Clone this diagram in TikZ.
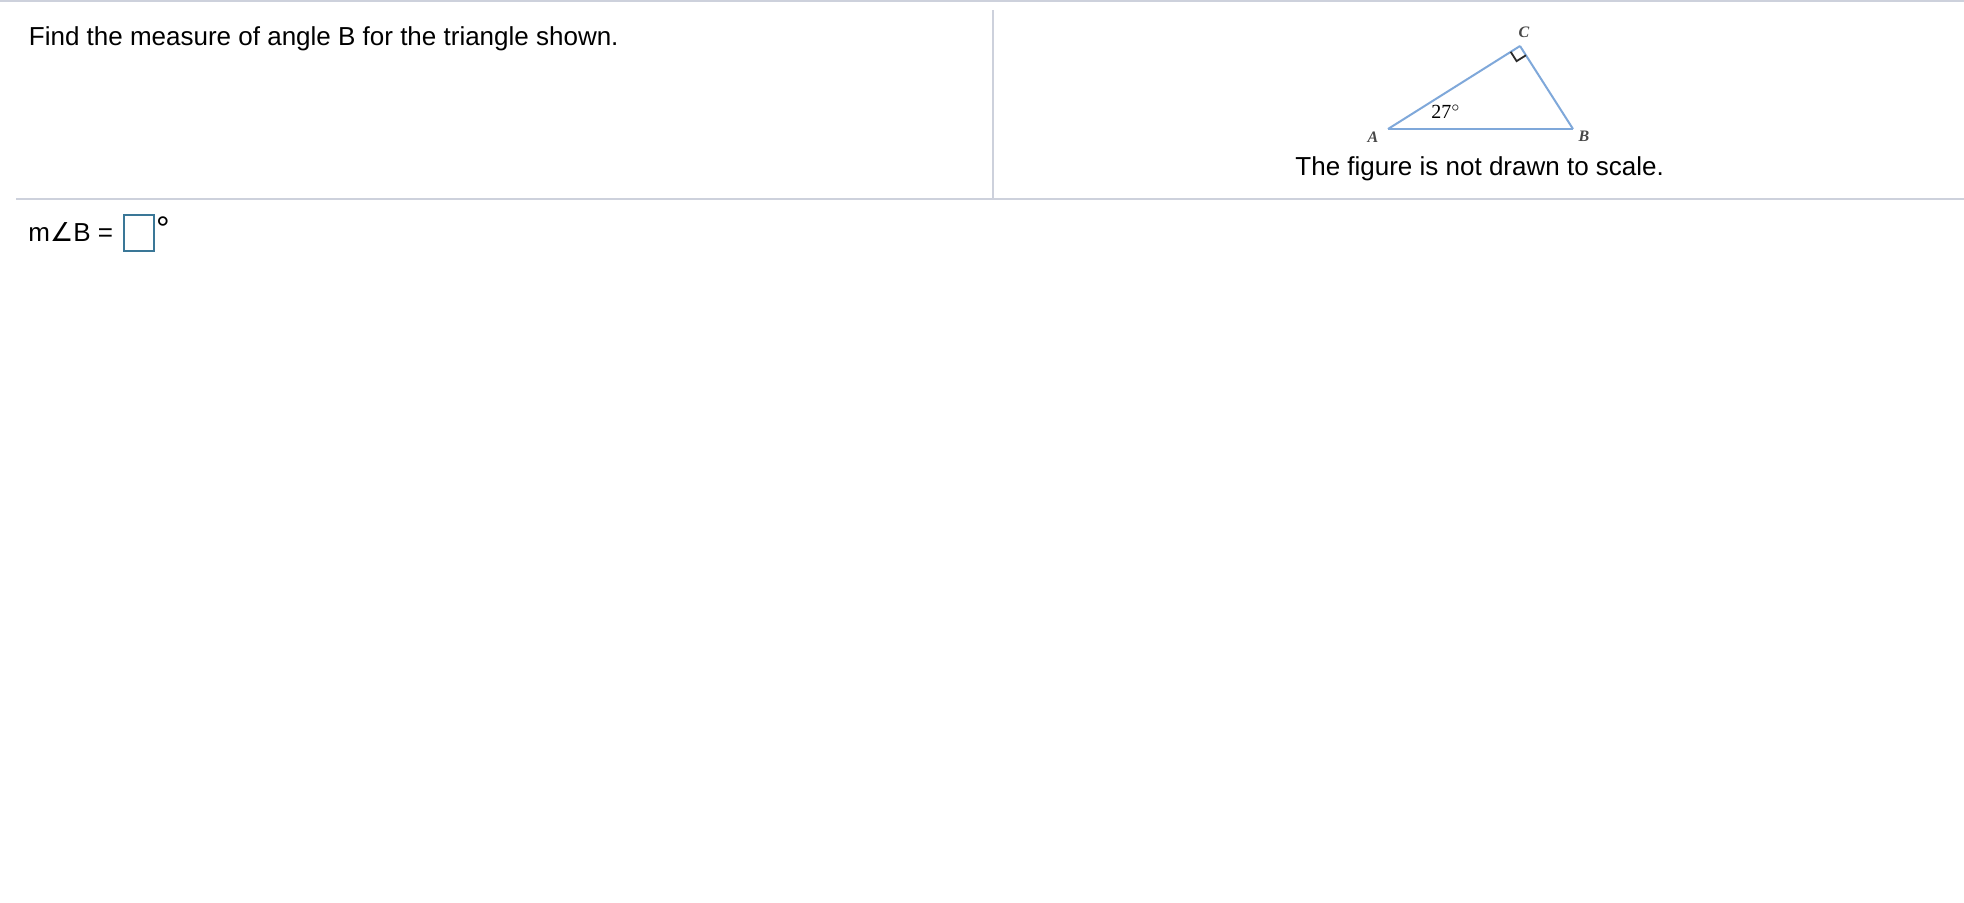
\documentclass[tikz,border=0pt]{standalone}
\usepackage{fontspec}
\setmainfont{Liberation Sans}
\newfontfamily\timesfont{Liberation Serif}
\newfontfamily\symfont{DejaVu Sans}
\usepackage{xcolor}
\usetikzlibrary{calc}
\definecolor{rulegray}{HTML}{CDD1DC}
\definecolor{sideblue}{HTML}{7FA8DA}
\definecolor{boxblue}{HTML}{3A7797}
\definecolor{markgray}{HTML}{2A2A2A}
\definecolor{labgray}{HTML}{484848}

\tikzset{
	txt/.style={anchor=base west,inner sep=0pt,font=\fontsize{13}{15}\selectfont},
	vlabel/.style={inner sep=0pt,text=labgray,font=\fontsize{8}{9}\selectfont\timesfont\bfseries\itshape}
}

\begin{document}
\begin{tikzpicture}[x=0.5pt,y=-0.5pt]
		\useasboundingbox (0,0) rectangle (1964,902);
		\fill[white] (0,0) rectangle (1964,902);
		%
		\path[draw=rulegray,line width=1pt]
		(0,1) -- (1964,1)
		(993,10) -- (993,199)
		(16,199) -- (1964,199);
		
		\node[txt] (Q) at (28.5,45.7) {Find the measure of angle B for the triangle shown.};
		\node[txt] (N) at (1295,175.7) {The figure is not drawn to scale.};
		
		\node[txt] (ans) at (28,241.7) {m{\symfont\fontsize{13}{15}\selectfont ∠}B =};
		\node[draw=boxblue,line width=1pt,inner sep=0pt,minimum width=15.2pt,minimum height=18pt] (box) at (139,233.3) {};
		\node[anchor=north,inner sep=0pt,font=\fontsize{17}{19}\selectfont] (deg) at (163,216.5) {°};
		
		\coordinate (A) at (1388,129);
		\coordinate (B) at (1573,129);
		\coordinate (C) at (1520,46);
		
		\node[vlabel] (lA) at (1373,137) {A};
		\node[vlabel] (lB) at (1584,136) {B};
		\node[vlabel] (lC) at (1524,32) {C};
		\node[inner sep=0pt,font=\fontsize{10}{12}\selectfont\timesfont] (ang) at (1446,112) {27$^{\circ}$};
		%
		\path[draw=sideblue,line width=1pt]
		(A) edge (B)
		(B) edge (C)
		(C) edge (A);
		
		\coordinate (ra1) at ($(C)!5.5pt!(A)$);
		\coordinate (ra2) at ($(C)!5.5pt!(B)$);
		\coordinate (ra3) at ($(ra1)+(ra2)-(C)$);
		\draw[markgray,line width=0.9pt] (ra1) -- (ra3) -- (ra2);
		
	\end{tikzpicture}
\end{document}
